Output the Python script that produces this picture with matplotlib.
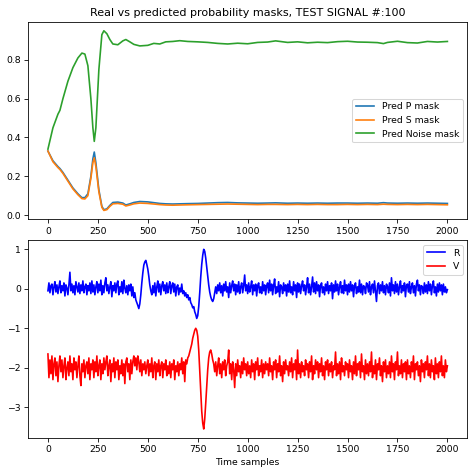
import numpy as np
import matplotlib
matplotlib.use("Agg")
import matplotlib.pyplot as plt

# ---- top panel: predicted masks ----
mask_x = [0, 25, 50, 60, 75, 100, 125, 150, 170, 185, 200, 215, 225, 232, 240, 255, 270, 280,
          295, 310, 325, 350, 375, 390, 410, 430, 460, 500, 530, 560, 590, 625, 660, 700, 750,
          800, 850, 900, 950, 1000, 1050, 1100, 1140, 1200, 1250, 1300, 1350, 1400, 1450, 1500,
          1550, 1600, 1650, 1680, 1700, 1750, 1800, 1850, 1900, 1950, 2000]
noise_mask = [0.34, 0.45, 0.52, 0.54, 0.60, 0.69, 0.76, 0.81, 0.835, 0.83, 0.77, 0.60, 0.45, 0.38,
              0.45, 0.75, 0.93, 0.95, 0.935, 0.905, 0.882, 0.878, 0.898, 0.905, 0.893, 0.88, 0.872,
              0.875, 0.885, 0.882, 0.893, 0.895, 0.899, 0.895, 0.893, 0.89, 0.885, 0.882, 0.886,
              0.883, 0.89, 0.892, 0.898, 0.89, 0.893, 0.888, 0.891, 0.889, 0.894, 0.896, 0.892,
              0.891, 0.889, 0.884, 0.89, 0.896, 0.889, 0.887, 0.895, 0.892, 0.895]
p_mask = [0.33, 0.28, 0.25, 0.24, 0.22, 0.18, 0.14, 0.11, 0.09, 0.09, 0.11, 0.20, 0.29, 0.325,
          0.27, 0.13, 0.045, 0.028, 0.032, 0.05, 0.065, 0.067, 0.062, 0.052, 0.058, 0.065, 0.07,
          0.068, 0.064, 0.06, 0.058, 0.057, 0.058, 0.059, 0.06, 0.062, 0.064, 0.065, 0.063,
          0.062, 0.061, 0.062, 0.063, 0.061, 0.062, 0.061, 0.062, 0.061, 0.062, 0.062, 0.061,
          0.062, 0.061, 0.064, 0.062, 0.061, 0.062, 0.061, 0.062, 0.061, 0.06]
s_mask = [0.33, 0.275, 0.245, 0.235, 0.215, 0.175, 0.135, 0.105, 0.085, 0.083, 0.10, 0.19, 0.27,
          0.295, 0.25, 0.12, 0.04, 0.024, 0.028, 0.045, 0.058, 0.06, 0.056, 0.047, 0.052, 0.058,
          0.062, 0.06, 0.057, 0.054, 0.052, 0.051, 0.052, 0.053, 0.054, 0.055, 0.056, 0.057,
          0.056, 0.055, 0.054, 0.055, 0.055, 0.054, 0.055, 0.054, 0.055, 0.054, 0.054, 0.055,
          0.054, 0.055, 0.054, 0.056, 0.055, 0.054, 0.055, 0.054, 0.055, 0.054, 0.053]

# ---- bottom panel: signals, read every 5 samples ----
sig_x = list(range(0, 2001, 5))
R = [-0.05, 0.15, -0.10, 0.08, 0.12, -0.15, 0.05, 0.18, -0.08, 0.10, -0.12, 0.05, 0.20, -0.10, 0.08, -0.05, 0.15, -0.18, 0.10, 0.02,
     -0.15, 0.10, 0.42, -0.05, 0.12, -0.10, 0.08, -0.15, 0.18, 0.05, -0.08, 0.15, -0.12, 0.10, -0.05, 0.20, -0.10, 0.05, 0.12, -0.15,
     0.08, -0.05, 0.15, -0.12, 0.20, -0.08, 0.10, -0.15, 0.05, 0.18, -0.10, 0.12, -0.05, 0.22, -0.15, 0.08, -0.10, 0.15, 0.28, -0.05,
     0.10, -0.12, 0.05, 0.18, -0.20, 0.08, -0.05, 0.15, -0.10, 0.12, 0.20, -0.15, 0.05, -0.08, 0.18, -0.12, 0.22, 0.02, -0.10, 0.08,
     -0.15, 0.10, -0.05, 0.12, -0.18, 0.05, -0.22, -0.10, -0.28, -0.35, -0.42, -0.50, -0.38, -0.15, 0.15, 0.40, 0.60, 0.68, 0.72, 0.62,
     0.50, 0.32, 0.10, -0.05, -0.15, 0.08, -0.10, 0.15, -0.18, 0.05, 0.20, -0.08, 0.12, -0.15, 0.08, 0.18, -0.05, 0.10, -0.12, 0.15,
     -0.10, 0.05, 0.18, -0.12, 0.08, 0.15, -0.08, 0.12, -0.18, 0.05, 0.10, -0.15, 0.02, -0.08, 0.12, -0.12, -0.05, -0.18, -0.10, -0.22,
     -0.15, -0.28, -0.22, -0.35, -0.40, -0.48, -0.45, -0.58, -0.65, -0.75, -0.68, -0.45, -0.10, 0.30, 0.62, 0.85, 1.00, 0.95, 0.78, 0.55,
     0.30, 0.10, -0.08, -0.20, -0.28, -0.32, -0.25, -0.10, 0.05, -0.12, 0.10, -0.05, 0.15, -0.10, 0.08, -0.18, 0.12, -0.05, 0.18, -0.08,
     0.05, -0.22, 0.15, -0.10, 0.08, 0.20, -0.05, 0.12, -0.15, 0.10, -0.08, 0.18, -0.12, 0.05, 0.15, -0.10, 0.08, 0.35, -0.05, 0.10,
     -0.12, 0.15, -0.08, 0.05, 0.20, -0.15, 0.10, -0.05, 0.12, -0.18, 0.08, 0.15, -0.10, 0.05, -0.12, 0.18, -0.05, 0.10, -0.15, 0.08,
     0.15, -0.10, 0.22, -0.05, 0.12, -0.15, 0.08, 0.25, -0.12, 0.05, -0.08, 0.18, -0.20, 0.10, 0.05, -0.12, 0.15, -0.05, 0.10, -0.18,
     0.12, -0.08, 0.20, -0.10, 0.05, -0.15, 0.18, -0.05, 0.10, -0.22, 0.15, -0.08, 0.12, -0.12, 0.08, 0.20, -0.05, 0.10, -0.15, 0.05,
     0.28, -0.10, 0.12, -0.15, 0.05, 0.30, -0.08, 0.15, -0.12, 0.18, -0.05, 0.10, -0.20, 0.08, 0.15, -0.10, 0.05, -0.15, 0.12, -0.05,
     0.18, -0.12, 0.08, -0.05, 0.15, -0.25, 0.10, -0.08, 0.20, -0.05, 0.12, -0.15, 0.05, 0.18, -0.10, 0.08, -0.12, 0.22, -0.05, 0.10,
     -0.15, 0.12, -0.08, 0.18, -0.05, 0.10, -0.20, 0.08, 0.15, -0.12, 0.05, -0.08, 0.22, -0.10, 0.12, -0.15, 0.08, 0.05, -0.12, 0.15,
     0.10, -0.08, 0.18, -0.15, 0.05, 0.12, -0.10, 0.20, -0.05, -0.32, 0.08, 0.15, -0.12, 0.10, -0.05, 0.18, -0.10, 0.08, -0.15, 0.12,
     0.05, -0.10, 0.15, -0.18, 0.28, -0.05, 0.10, -0.12, 0.18, -0.08, 0.12, -0.15, 0.05, 0.20, -0.10, 0.08, -0.05, 0.15, -0.20, 0.10,
     0.12, -0.08, 0.18, -0.12, 0.05, 0.15, -0.10, 0.08, -0.18, 0.12, 0.22, -0.05, 0.10, -0.15, 0.08, 0.05, -0.12, 0.15, -0.08, 0.10,
     -0.12, 0.18, -0.05, 0.12, -0.15, 0.08, 0.20, -0.10, 0.05, -0.18, 0.12, -0.08, 0.15, -0.05, 0.10, -0.15, 0.12, -0.08, 0.05, -0.10,
     -0.02]
V = [-1.65, -2.25, -1.80, -2.15, -1.70, -2.30, -1.90, -1.75, -2.20, -1.85, -2.35, -1.95, -1.70, -2.10, -1.80, -2.25, -1.95, -1.75, -2.30, -2.00,
     -1.85, -2.20, -1.70, -2.10, -1.90, -2.30, -1.75, -2.05, -1.85, -2.25, -1.95, -1.70, -2.20, -2.45, -1.90, -2.10, -1.80, -2.25, -1.95, -1.85,
     -2.15, -1.75, -2.30, -1.90, -2.05, -1.80, -2.25, -1.85, -2.10, -1.70, -2.20, -1.95, -1.80, -2.30, -1.90, -2.15, -1.75, -2.05, -1.85, -1.70,
     -2.20, -1.95, -1.80, -2.35, -1.90, -2.10, -1.75, -2.25, -1.85, -2.05, -1.80, -2.30, -1.95, -2.15, -1.80, -2.20, -1.90, -2.40, -1.85, -1.75,
     -2.10, -1.90, -2.30, -1.80, -2.15, -1.85, -1.70, -1.95, -1.75, -2.05, -1.70, -1.85, -2.10, -1.80, -2.20, -1.90, -2.05, -1.85, -2.15, -1.95,
     -1.80, -2.20, -1.90, -2.10, -1.75, -2.25, -1.95, -1.85, -2.30, -1.90, -2.10, -1.80, -2.20, -1.95, -1.85, -2.25, -1.90, -2.05, -1.80, -2.20,
     -1.95, -2.15, -1.85, -2.25, -1.90, -2.05, -1.80, -2.30, -1.95, -2.10, -1.85, -2.20, -1.90, -2.05, -1.75, -2.15, -1.85, -2.35, -1.80, -1.90,
     -1.75, -1.70, -1.60, -1.50, -1.40, -1.25, -1.15, -1.05, -1.00, -1.05, -1.20, -1.55, -2.05, -2.60, -3.10, -3.40, -3.55, -3.30, -2.90, -2.45,
     -2.05, -1.75, -1.60, -1.55, -1.65, -1.80, -1.90, -2.10, -1.85, -2.20, -1.95, -1.75, -2.15, -1.90, -2.25, -1.85, -2.05, -1.80, -2.20, -1.95,
     -1.85, -1.55, -2.15, -1.90, -2.30, -1.85, -2.05, -2.50, -1.90, -2.20, -1.80, -2.10, -1.95, -2.25, -1.85, -2.15, -1.75, -2.05, -1.90, -2.20,
     -1.85, -2.15, -1.95, -2.25, -1.80, -2.10, -1.90, -2.30, -1.85, -2.05, -1.75, -2.20, -1.95, -2.10, -1.80, -2.25, -1.90, -2.15, -1.85, -2.05,
     -1.90, -2.20, -1.75, -2.10, -1.95, -2.30, -1.85, -2.05, -1.80, -2.25, -1.90, -2.10, -1.70, -2.20, -1.95, -2.35, -1.85, -2.15, -1.80, -2.05,
     -1.95, -2.20, -1.85, -2.10, -1.75, -2.25, -1.90, -2.05, -1.80, -2.30, -1.55, -2.15, -1.90, -2.25, -1.85, -2.10, -1.95, -2.20, -1.80, -2.05,
     -1.90, -2.25, -1.85, -2.10, -1.70, -2.30, -1.95, -2.15, -1.80, -2.05, -1.85, -2.25, -1.90, -2.10, -1.75, -2.20, -1.95, -2.30, -1.85, -2.05,
     -1.80, -2.20, -1.90, -2.10, -1.85, -2.25, -1.95, -2.05, -1.60, -2.20, -1.90, -2.15, -1.85, -2.30, -1.75, -2.10, -1.95, -2.20, -1.85, -2.05,
     -1.90, -2.25, -1.80, -2.10, -1.95, -2.30, -1.85, -2.15, -1.70, -2.20, -1.90, -2.05, -1.85, -2.25, -1.65, -2.10, -1.95, -2.30, -1.80, -2.15,
     -1.90, -2.20, -1.85, -2.10, -1.60, -2.25, -1.95, -2.15, -1.80, -2.30, -1.90, -2.05, -1.75, -2.20, -1.95, -2.35, -1.85, -2.10, -1.80, -2.25,
     -1.95, -2.15, -1.85, -2.25, -1.70, -2.10, -1.90, -2.30, -1.85, -2.05, -1.60, -2.20, -1.95, -2.15, -1.80, -2.25, -1.90, -2.10, -1.85, -2.30,
     -1.80, -2.15, -1.95, -2.25, -1.85, -2.10, -1.70, -2.30, -1.90, -2.05, -1.85, -2.20, -1.95, -2.35, -1.80, -2.10, -1.90, -2.25, -1.85, -2.05,
     -1.70, -2.20, -1.90, -2.25, -1.80, -2.10, -1.95, -2.30, -1.75, -2.15, -1.90, -2.25, -1.85, -2.10, -1.70, -2.20, -1.95, -2.25, -1.80, -2.10,
     -1.95]

plt.rcParams['font.size'] = 9
plt.rcParams['lines.linewidth'] = 1.6

fig, (ax1, ax2) = plt.subplots(2, 1, figsize=(6.4, 6.4), dpi=74.0625)
fig.subplots_adjust(left=0.059, right=0.986, top=0.954, bottom=0.076, hspace=0.106)

ax1.plot(mask_x, p_mask, label="Pred P mask")
ax1.plot(mask_x, s_mask, label="Pred S mask")
ax1.plot(mask_x, noise_mask, label="Pred Noise mask")
ax1.set_title("Real vs predicted probability masks, TEST SIGNAL #:100", fontsize=10.8)
ax1.legend(loc="center right")

ax2.plot(sig_x, R, color="b", label="R")
ax2.plot(sig_x, V, color="r", label="V")
ax2.set_xlabel("Time samples")
ax2.legend(loc="upper right")

fig.savefig("out.png", dpi=74.0625)
